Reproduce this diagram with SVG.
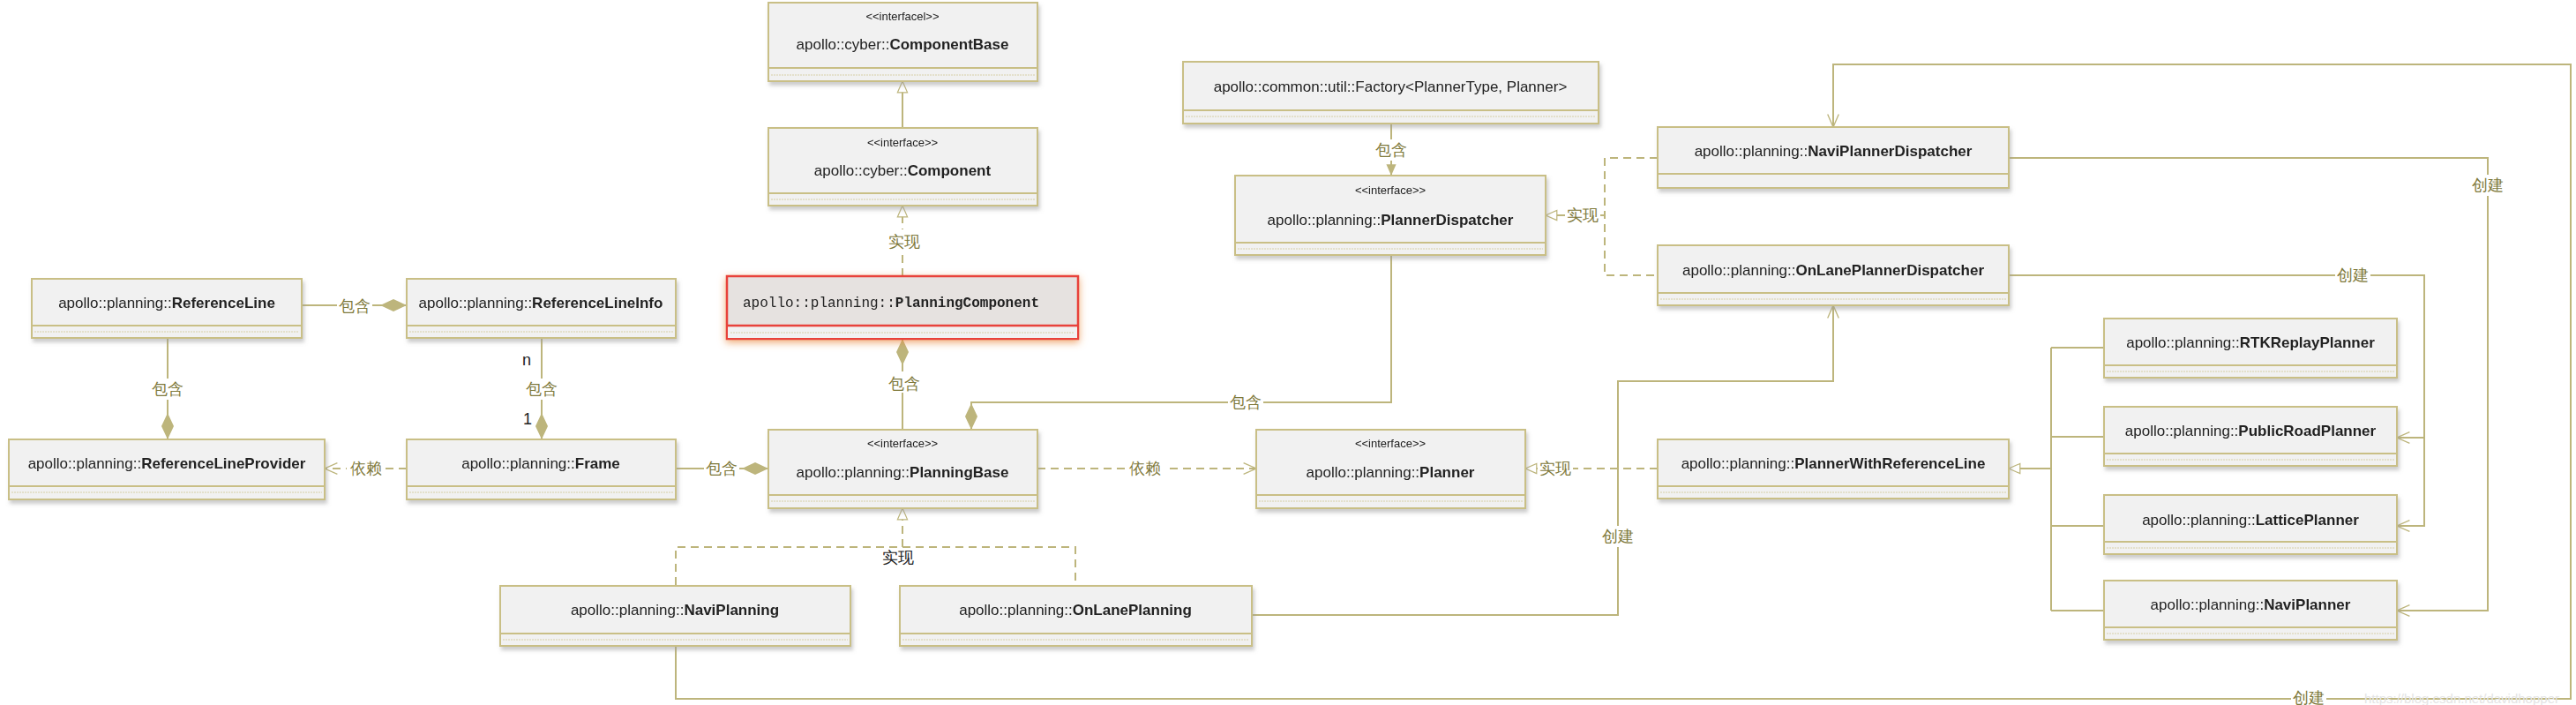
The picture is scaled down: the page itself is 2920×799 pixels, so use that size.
<svg xmlns="http://www.w3.org/2000/svg" width="2920" height="799" viewBox="0 0 2920 799">
<style>
.b{fill:#f1f1f1;stroke:#c9bf86;stroke-width:2}
.d{stroke:#d6cfa6;stroke-width:1;stroke-dasharray:2 1}
text{font-family:"Liberation Sans",Arial,sans-serif;fill:#222}
.n{font-size:17px;text-anchor:middle}
.st{font-size:13px;text-anchor:middle}
.l{font-size:18px;fill:#7f7a3c;text-anchor:middle}
.c{fill:none;stroke:#bdb57c;stroke-width:2}
.cd{fill:none;stroke:#bdb57c;stroke-width:2;stroke-dasharray:9 6}
.bg{fill:#fff}
</style>
<defs>
<marker id="tri" viewBox="0 0 20 20" refX="18" refY="10" markerWidth="16" markerHeight="16" orient="auto" markerUnits="userSpaceOnUse"><path d="M2,3 L18,10 L2,17 Z" fill="#fff" stroke="#bdb57c" stroke-width="1.5"/></marker>
<marker id="open" viewBox="0 0 20 20" refX="18" refY="10" markerWidth="18" markerHeight="18" orient="auto" markerUnits="userSpaceOnUse"><path d="M2,3 L18,10 L2,17" fill="none" stroke="#bdb57c" stroke-width="1.5"/></marker>
<marker id="dia" viewBox="0 0 32 16" refX="31" refY="8" markerWidth="32" markerHeight="16" orient="auto" markerUnits="userSpaceOnUse"><path d="M1,8 L16,1 L31,8 L16,15 Z" fill="#bdb57c"/></marker>
<marker id="fill" viewBox="0 0 20 20" refX="18" refY="10" markerWidth="16" markerHeight="16" orient="auto" markerUnits="userSpaceOnUse"><path d="M2,3 L18,10 L2,17 Z" fill="#bdb57c"/></marker>
<filter id="sh" x="-5%" y="-10%" width="110%" height="130%"><feDropShadow dx="2" dy="4" stdDeviation="2" flood-color="#999" flood-opacity="0.5"/></filter>
<filter id="glow" x="-5%" y="-15%" width="110%" height="140%"><feDropShadow dx="0" dy="3" stdDeviation="4" flood-color="#e8883a" flood-opacity="0.7"/></filter>
</defs>
<rect width="2920" height="799" fill="#fff"/>

<g id="connectors">
<path class="c" d="M1023,145 V92" marker-end="url(#tri)"/>
<path class="cd" d="M1023,313 V233" marker-end="url(#tri)"/>
<rect class="bg" x="1003" y="260" width="40" height="24"/><text class="l" x="1025" y="280">实现</text>
<path class="c" d="M1023,487 V384" marker-end="url(#dia)"/>
<rect class="bg" x="1003" y="421" width="40" height="24"/><text class="l" x="1025" y="441">包含</text>
<path class="c" d="M342,346 H461" marker-end="url(#dia)"/>
<rect class="bg" x="382" y="335" width="40" height="24"/><text class="l" x="402" y="353">包含</text>
<path class="c" d="M190,383 V498" marker-end="url(#dia)"/>
<rect class="bg" x="170" y="429" width="40" height="24"/><text class="l" x="190" y="447">包含</text>
<path class="c" d="M614,383 V498" marker-end="url(#dia)"/>
<rect class="bg" x="594" y="429" width="40" height="24"/><text class="l" x="614" y="447">包含</text>
<text class="l" x="597" y="414" style="fill:#222">n</text>
<text class="l" x="598" y="481" style="fill:#222">1</text>
<path class="cd" d="M461,531 H368" marker-end="url(#open)"/>
<rect class="bg" x="393" y="519" width="44" height="24"/><text class="l" x="415" y="537">依赖</text>
<path class="c" d="M766,531 H871" marker-end="url(#dia)"/>
<rect class="bg" x="798" y="519" width="40" height="24"/><text class="l" x="818" y="537">包含</text>
<path class="c" d="M1577,289 V456 H1101 V487" marker-end="url(#dia)"/>
<rect class="bg" x="1392" y="444" width="40" height="24"/><text class="l" x="1412" y="462">包含</text>
<path class="cd" d="M1176,531 H1424" marker-end="url(#open)"/>
<rect class="bg" x="1276" y="519" width="44" height="24"/><text class="l" x="1298" y="537">依赖</text>
<path class="cd" d="M766,663 V620 H1219 V663"/>
<path class="cd" d="M1023,620 V576" marker-end="url(#tri)"/>
<text class="l" x="1018" y="638" style="fill:#222">实现</text>
<path class="c" d="M1577,140 V199" marker-end="url(#fill)"/>
<rect class="bg" x="1557" y="158" width="40" height="24"/><text class="l" x="1577" y="176">包含</text>
<path class="cd" d="M1879,179 H1819 V312 H1879"/>
<path class="cd" d="M1819,244 H1752" marker-end="url(#tri)"/>
<rect class="bg" x="1774" y="232" width="40" height="24"/><text class="l" x="1794" y="250">实现</text>
<path class="cd" d="M1879,531 H1729" marker-end="url(#tri)"/>
<rect class="bg" x="1743" y="519" width="40" height="24"/><text class="l" x="1763" y="537">实现</text>
<path class="c" d="M1419,697 H1834 V432 H2078 V346" marker-end="url(#open)"/>
<rect class="bg" x="1814" y="596" width="40" height="24"/><text class="l" x="1834" y="614">创建</text>
<path class="c" d="M2325,394 V692 M2325,394 H2385 M2325,495 H2385 M2325,596 H2385 M2325,692 H2385"/>
<path class="c" d="M2325,531 H2277" marker-end="url(#tri)"/>
<path class="c" d="M2277,312 H2748 V596 H2717" marker-end="url(#open)"/>
<path class="c" d="M2748,496 H2717" marker-end="url(#open)"/>
<rect class="bg" x="2647" y="300" width="40" height="24"/><text class="l" x="2667" y="318">创建</text>
<path class="c" d="M2277,179 H2820 V692 H2717" marker-end="url(#open)"/>
<rect class="bg" x="2800" y="198" width="40" height="24"/><text class="l" x="2820" y="216">创建</text>
<path class="c" d="M766,732 V792 H2914 V73 H2078 V144" marker-end="url(#open)"/>
<rect class="bg" x="2597" y="781" width="40" height="20"/><text class="l" x="2617" y="797">创建</text>
<text x="2680" y="797" style="font-size:15px;fill:#e4e4e4">https://blog.csdn.net/davidhopper</text>
</g>

<g id="ComponentBase" filter="url(#sh)"><rect class="b" x="871" y="3" width="305" height="89"/><line x1="871" y1="77" x2="1176" y2="77" stroke="#c9bf86" stroke-width="2"/><text class="st" x="1023" y="23">&lt;&lt;interfacel&gt;&gt;</text><text class="n" x="1023" y="56">apollo::cyber::<tspan font-weight="bold">ComponentBase</tspan></text><line class="d" x1="874" y1="85" x2="1173" y2="85"/></g>
<g id="Component" filter="url(#sh)"><rect class="b" x="871" y="145" width="305" height="88"/><line x1="871" y1="219" x2="1176" y2="219" stroke="#c9bf86" stroke-width="2"/><text class="st" x="1023" y="166">&lt;&lt;interface&gt;&gt;</text><text class="n" x="1023" y="199">apollo::cyber::<tspan font-weight="bold">Component</tspan></text><line class="d" x1="874" y1="226" x2="1173" y2="226"/></g>
<g id="PlanningComponent" filter="url(#glow)"><rect x="824" y="313" width="398" height="71" fill="#e6e2e0" stroke="#e8423a" stroke-width="2.5"/><rect x="825" y="370" width="396" height="13" fill="#f1f1f1"/><line x1="824" y1="369" x2="1222" y2="369" stroke="#e8423a" stroke-width="2.5"/><text class="n" x="1010" y="348" style="font-family:'Liberation Mono',monospace;font-size:16px">apollo::planning::<tspan font-weight="bold">PlanningComponent</tspan></text><line class="d" x1="828" y1="377" x2="1218" y2="377"/></g>
<g id="ReferenceLine" filter="url(#sh)"><rect class="b" x="36" y="316" width="306" height="67"/><line x1="36" y1="369" x2="342" y2="369" stroke="#c9bf86" stroke-width="2"/><text class="n" x="189" y="349">apollo::planning::<tspan font-weight="bold">ReferenceLine</tspan></text><line class="d" x1="39" y1="376" x2="339" y2="376"/></g>
<g id="ReferenceLineInfo" filter="url(#sh)"><rect class="b" x="461" y="316" width="305" height="67"/><line x1="461" y1="369" x2="766" y2="369" stroke="#c9bf86" stroke-width="2"/><text class="n" x="613" y="349">apollo::planning::<tspan font-weight="bold">ReferenceLineInfo</tspan></text><line class="d" x1="464" y1="376" x2="763" y2="376"/></g>
<g id="ReferenceLineProvider" filter="url(#sh)"><rect class="b" x="10" y="498" width="358" height="68"/><line x1="10" y1="551" x2="368" y2="551" stroke="#c9bf86" stroke-width="2"/><text class="n" x="189" y="531">apollo::planning::<tspan font-weight="bold">ReferenceLineProvider</tspan></text><line class="d" x1="13" y1="558" x2="365" y2="558"/></g>
<g id="Frame" filter="url(#sh)"><rect class="b" x="461" y="498" width="305" height="68"/><line x1="461" y1="551" x2="766" y2="551" stroke="#c9bf86" stroke-width="2"/><text class="n" x="613" y="531">apollo::planning::<tspan font-weight="bold">Frame</tspan></text><line class="d" x1="464" y1="558" x2="763" y2="558"/></g>
<g id="PlanningBase" filter="url(#sh)"><rect class="b" x="871" y="487" width="305" height="89"/><line x1="871" y1="561" x2="1176" y2="561" stroke="#c9bf86" stroke-width="2"/><text class="st" x="1023" y="507">&lt;&lt;interface&gt;&gt;</text><text class="n" x="1023" y="541">apollo::planning::<tspan font-weight="bold">PlanningBase</tspan></text><line class="d" x1="874" y1="568" x2="1173" y2="568"/></g>
<g id="NaviPlanning" filter="url(#sh)"><rect class="b" x="567" y="664" width="397" height="68"/><line x1="567" y1="718" x2="964" y2="718" stroke="#c9bf86" stroke-width="2"/><text class="n" x="765" y="697">apollo::planning::<tspan font-weight="bold">NaviPlanning</tspan></text><line class="d" x1="570" y1="725" x2="961" y2="725"/></g>
<g id="OnLanePlanning" filter="url(#sh)"><rect class="b" x="1020" y="664" width="399" height="68"/><line x1="1020" y1="718" x2="1419" y2="718" stroke="#c9bf86" stroke-width="2"/><text class="n" x="1219" y="697">apollo::planning::<tspan font-weight="bold">OnLanePlanning</tspan></text><line class="d" x1="1023" y1="725" x2="1416" y2="725"/></g>
<g id="Factory" filter="url(#sh)"><rect class="b" x="1341" y="70" width="471" height="70"/><line x1="1341" y1="125" x2="1812" y2="125" stroke="#c9bf86" stroke-width="2"/><text class="n" x="1576" y="104">apollo::common::util::Factory&lt;PlannerType, Planner&gt;</text><line class="d" x1="1344" y1="132" x2="1809" y2="132"/></g>
<g id="PlannerDispatcher" filter="url(#sh)"><rect class="b" x="1400" y="199" width="352" height="90"/><line x1="1400" y1="275" x2="1752" y2="275" stroke="#c9bf86" stroke-width="2"/><text class="st" x="1576" y="220">&lt;&lt;interface&gt;&gt;</text><text class="n" x="1576" y="255">apollo::planning::<tspan font-weight="bold">PlannerDispatcher</tspan></text><line class="d" x1="1403" y1="282" x2="1749" y2="282"/></g>
<g id="NaviPlannerDispatcher" filter="url(#sh)"><rect class="b" x="1879" y="144" width="398" height="69"/><line x1="1879" y1="197" x2="2277" y2="197" stroke="#c9bf86" stroke-width="2"/><text class="n" x="2078" y="177">apollo::planning::<tspan font-weight="bold">NaviPlannerDispatcher</tspan></text></g>
<g id="OnLanePlannerDispatcher" filter="url(#sh)"><rect class="b" x="1879" y="278" width="398" height="68"/><line x1="1879" y1="332" x2="2277" y2="332" stroke="#c9bf86" stroke-width="2"/><text class="n" x="2078" y="312">apollo::planning::<tspan font-weight="bold">OnLanePlannerDispatcher</tspan></text><line class="d" x1="1882" y1="339" x2="2274" y2="339"/></g>
<g id="Planner" filter="url(#sh)"><rect class="b" x="1424" y="487" width="305" height="89"/><line x1="1424" y1="561" x2="1729" y2="561" stroke="#c9bf86" stroke-width="2"/><text class="st" x="1576" y="507">&lt;&lt;interface&gt;&gt;</text><text class="n" x="1576" y="541">apollo::planning::<tspan font-weight="bold">Planner</tspan></text><line class="d" x1="1427" y1="568" x2="1726" y2="568"/></g>
<g id="PlannerWithReferenceLine" filter="url(#sh)"><rect class="b" x="1879" y="498" width="398" height="67"/><line x1="1879" y1="551" x2="2277" y2="551" stroke="#c9bf86" stroke-width="2"/><text class="n" x="2078" y="531">apollo::planning::<tspan font-weight="bold">PlannerWithReferenceLine</tspan></text><line class="d" x1="1882" y1="558" x2="2274" y2="558"/></g>
<g id="RTKReplayPlanner" filter="url(#sh)"><rect class="b" x="2385" y="361" width="332" height="67"/><line x1="2385" y1="414" x2="2717" y2="414" stroke="#c9bf86" stroke-width="2"/><text class="n" x="2551" y="394">apollo::planning::<tspan font-weight="bold">RTKReplayPlanner</tspan></text><line class="d" x1="2388" y1="421" x2="2714" y2="421"/></g>
<g id="PublicRoadPlanner" filter="url(#sh)"><rect class="b" x="2385" y="461" width="332" height="67"/><line x1="2385" y1="514" x2="2717" y2="514" stroke="#c9bf86" stroke-width="2"/><text class="n" x="2551" y="494">apollo::planning::<tspan font-weight="bold">PublicRoadPlanner</tspan></text><line class="d" x1="2388" y1="521" x2="2714" y2="521"/></g>
<g id="LatticePlanner" filter="url(#sh)"><rect class="b" x="2385" y="561" width="332" height="67"/><line x1="2385" y1="614" x2="2717" y2="614" stroke="#c9bf86" stroke-width="2"/><text class="n" x="2551" y="595">apollo::planning::<tspan font-weight="bold">LatticePlanner</tspan></text><line class="d" x1="2388" y1="621" x2="2714" y2="621"/></g>
<g id="NaviPlanner" filter="url(#sh)"><rect class="b" x="2385" y="658" width="332" height="67"/><line x1="2385" y1="711" x2="2717" y2="711" stroke="#c9bf86" stroke-width="2"/><text class="n" x="2551" y="691">apollo::planning::<tspan font-weight="bold">NaviPlanner</tspan></text><line class="d" x1="2388" y1="718" x2="2714" y2="718"/></g>
</svg>
